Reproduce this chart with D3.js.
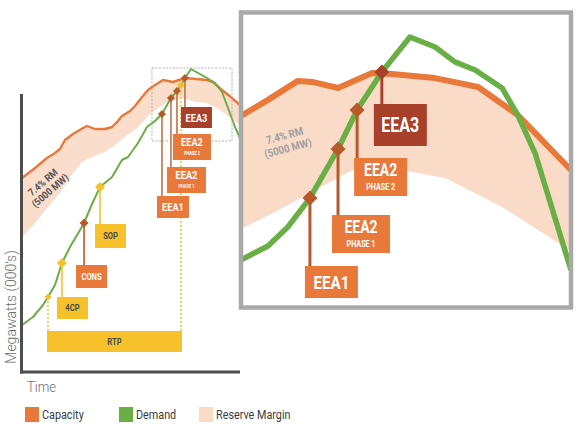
<!DOCTYPE html>
<html><head><meta charset="utf-8">
<script src="https://cdn.jsdelivr.net/npm/d3@7"></script>
<style>html,body{margin:0;padding:0;background:#fff;} svg{display:block;}</style>
</head><body><svg id="c" width="583" height="427"></svg>
<script>
// ---------- DATA (time in hours, load in thousand MW) ----------
const capacity = [[0,53.8],[1.43,55.8],[2.75,57.8],[3.63,58.8],[4.18,59.6],[4.73,61.4],[5.61,62.6],[6.72,63.8],[7.16,64.2],[8.04,63.6],[9.14,63.6],[9.91,64.0],[10.46,65.0],[11.01,66.2],[11.89,67.2],[12.44,68.2],[13.21,70.0],[13.87,71.4],[14.31,72.0],[15.52,73.4],[16.62,73.0],[17.94,73.8],[20.37,73.4],[21.03,73.0],[22.02,71.4],[23.12,69.8],[24.0,68.4]];
const reserveFloor = [[0,42.0],[1.43,44.8],[2.86,48.0],[4.18,50.8],[5.61,54.8],[6.61,57.0],[7.71,58.0],[9.14,59.0],[10.24,60.4],[11.34,62.0],[12.77,64.0],[14.09,66.6],[15.96,69.0],[17.72,69.8],[19.05,69.0],[20.37,68.8],[21.80,67.4],[23.23,65.4],[24.0,64.4]];
const demand = [[0,24.4],[1.21,26.0],[2.31,28.4],[2.86,30.0],[3.63,32.4],[4.40,36.8],[5.28,40.0],[6.39,43.4],[6.83,44.8],[7.71,48.6],[8.59,52.0],[9.91,54.0],[11.01,57.4],[11.67,58.0],[12.77,60.8],[13.76,64.0],[14.64,65.2],[15.41,66.6],[16.40,69.8],[17.06,71.2],[17.50,72.4],[17.94,73.8],[18.61,75.6],[19.38,74.8],[20.37,73.8],[21.25,72.8],[22.02,71.0],[22.68,67.8],[23.45,64.0],[24.0,61.8]];

const eventNames = ["RTP_START","4CP","CONS","SOP","EEA1","EEA2_P1","EEA2_P2","RTP_END","EEA3"];
const eventTimes = [2.86, 4.40, 6.83, 8.59, 15.41, 16.40, 17.06, 17.50, 17.94];

// detail (zoomed) panel values
const detailCapacity = [[14.31,72.65],[15.03,73.45],[15.83,74.39],[16.21,74.34],[16.90,74.04],[17.81,74.78],[18.34,74.73],[19.49,74.53],[20.64,74.09],[21.70,72.70],[23.12,69.98]];
const detailDemand = [[14.31,65.53],[15.03,66.22],[15.56,67.16],[16.15,68.59],[16.90,71.02],[17.41,72.95],[18.07,74.83],[18.82,76.56],[19.49,76.07],[20.02,75.33],[20.56,74.93],[21.28,74.04],[21.70,72.70],[22.16,70.82],[23.12,65.03]];
const detailReserveFloor = [[14.31,67.06],[15.22,67.90],[16.29,68.99],[17.54,70.23],[18.61,69.98],[19.76,69.58],[21.28,68.15],[23.12,65.97]];
const detailEventNames = ["EEA1","EEA2_P1","EEA2_P2","EEA3"];
const detailEventTimes = [16.15, 16.90, 17.41, 18.07];

const legendItems = ["Capacity","Demand","Reserve Margin"];

// ---------- STYLE / LAYOUT ----------
const C = {orange:"#E8793A", green:"#6AAE46", pink:"#F9D7C1", yellow:"#F7C12C", red:"#A8402B",
           brown:"#B65A2C", stem:"#C0724B", axis:"#4D4D4D", gray:"#A9A9A9", text:"#4A4A4A"};
const FONT = "Roboto,'Liberation Sans',sans-serif";
const SQ = 0.8; // horizontal condensing of label text

const svg = d3.select("#c");
const x = d3.scaleLinear().domain([0,24]).range([22,240]);
const y = d3.scaleLinear().domain([15,75]).range([372,72]);
const xd = d3.scaleLinear().domain([14.31,23.12]).range([241,571]);
const yd = d3.scaleLinear().domain([63.2,77.8]).range([307,12]);

function interp(series,t){
  for(let i=1;i<series.length;i++){
    if(t<=series[i][0]){const a=series[i-1],b=series[i];const f=(t-a[0])/(b[0]-a[0]);return a[1]+f*(b[1]-a[1]);}
  }
  return series[series.length-1][1];
}
const diamond = (s)=>`M0,${-s}L${s},0L0,${s}L${-s},0Z`;
function ctext(g, cx, by, str, size, fill, weight, anchor){
  return g.append("text").attr("transform",`translate(${cx},${by}) scale(${SQ},1)`)
    .attr("text-anchor",anchor||"middle").attr("font-family",FONT).attr("font-weight",weight||"bold")
    .attr("font-size",size).attr("fill",fill).text(str);
}

const defs = svg.append("defs");
defs.append("clipPath").attr("id","cm").append("rect").attr("x",22).attr("y",0).attr("width",218).attr("height",372);
defs.append("clipPath").attr("id","cd").append("rect").attr("x",243).attr("y",14.5).attr("width",326).attr("height",291);

// ---------- MAIN CHART ----------
const gm = svg.append("g");
const gmc = gm.append("g").attr("clip-path","url(#cm)");
const lineM = d3.line().x(d=>x(d[0])).y(d=>y(d[1]));
gmc.append("path").attr("d", lineM(capacity.concat(reserveFloor.slice().reverse()))+"Z").attr("fill",C.pink).attr("opacity",0.85);
gmc.append("path").attr("d", lineM(capacity)).attr("fill","none").attr("stroke",C.orange).attr("stroke-width",2.4).attr("stroke-linejoin","round");

// RM label
const rm = gm.append("text").attr("transform",`translate(${x(2.55)},${y(52.4)}) rotate(-41) scale(0.9,1)`)
  .attr("font-family",FONT).attr("font-size",10).attr("font-weight","bold").attr("fill","#555").attr("text-anchor","middle");
rm.append("tspan").attr("x",0).attr("dy",0).text("7.4% RM");
rm.append("tspan").attr("x",0).attr("dy",11).text("(5000 MW)");

// dashed zoom box
const zx0=x(14.31), zx1=x(23.12);
gm.append("rect").attr("x",zx0).attr("y",y(75.8)).attr("width",zx1-zx0).attr("height",y(61.2)-y(75.8))
  .attr("fill","none").attr("stroke","#B0B0B0").attr("stroke-width",1).attr("stroke-dasharray","2,1.5");

gmc.append("path").attr("d", lineM(demand)).attr("fill","none").attr("stroke",C.green).attr("stroke-width",2).attr("stroke-linejoin","round");

// axes
gm.append("line").attr("x1",21.5).attr("x2",21.5).attr("y1",94).attr("y2",373.5).attr("stroke",C.axis).attr("stroke-width",3);
gm.append("line").attr("x1",20).attr("x2",240).attr("y1",372).attr("y2",372).attr("stroke",C.axis).attr("stroke-width",3);
gm.append("text").attr("transform","translate(16,307) rotate(-90)").attr("text-anchor","middle")
  .attr("font-family",FONT).attr("font-weight",300).attr("font-size",14).attr("fill","#6E6E6E").text("Megawatts (000's)");
gm.append("text").attr("transform","translate(27,392) scale(0.9,1)").attr("font-family",FONT).attr("font-weight",300)
  .attr("font-size",14.5).attr("fill","#6E6E6E").text("Time");

// events on main chart
const ev = {}; eventNames.forEach((n,i)=>ev[n]={t:eventTimes[i], x:x(eventTimes[i]), y:y(interp(demand,eventTimes[i]))});
const boxLayout = {
  "4CP":    {top:297,h:22,w:31,dx:-5,fill:C.yellow,stem:C.yellow,dia:C.yellow,ds:5,lines:["4CP"],fc:C.text},
  "CONS":   {top:265,h:23,w:31,dx:-8,fill:C.orange,stem:C.brown,dia:C.brown,ds:4.5,lines:["CONS"],fc:"#fff"},
  "SOP":    {top:224,h:24,w:31,dx:-5,fill:C.yellow,stem:C.yellow,dia:C.yellow,ds:5,lines:["SOP"],fc:C.text},
  "EEA1":   {top:196,h:22,w:32,dx:-5,fill:C.orange,stem:C.stem,dia:C.brown,ds:4,lines:["EEA1"],fc:"#fff"},
  "EEA2_P1":{top:167,h:26,w:39,dx:-4,fill:C.orange,stem:C.stem,dia:C.brown,ds:4,lines:["EEA2","PHASE 1"],fc:"#fff"},
  "EEA2_P2":{top:134,h:26,w:38,dx:-4,fill:C.orange,stem:C.stem,dia:C.brown,ds:4,lines:["EEA2","PHASE 2"],fc:"#fff"},
  "EEA3":   {top:107,h:21,w:31,dx:-4,fill:C.red,stem:C.stem,dia:C.brown,ds:4,lines:["EEA3"],fc:"#fff"}
};
// RTP
const rtpTop=331, rtpBot=352;
[ev.RTP_START, ev.RTP_END].forEach(e=>{
  gm.append("line").attr("x1",e.x).attr("x2",e.x).attr("y1",e.y).attr("y2",rtpTop).attr("stroke",C.yellow).attr("stroke-width",1.5).attr("stroke-dasharray","2,2");
});
gm.append("rect").attr("x",ev.RTP_START.x-1).attr("y",rtpTop).attr("width",ev.RTP_END.x-ev.RTP_START.x+2).attr("height",rtpBot-rtpTop).attr("fill",C.yellow);
ctext(gm,(ev.RTP_START.x+ev.RTP_END.x)/2,(rtpTop+rtpBot)/2+3.3,"RTP",9.5,C.text);
gm.append("path").attr("d",diamond(3.5)).attr("transform",`translate(${ev.RTP_START.x},${ev.RTP_START.y})`).attr("fill",C.yellow);
gm.append("path").attr("d",diamond(4)).attr("transform",`translate(${ev.RTP_END.x},${ev.RTP_END.y})`).attr("fill",C.yellow);

function drawBox(g, e, L, big){
  g.append("line").attr("x1",e.x).attr("x2",e.x).attr("y1",e.y).attr("y2",L.top).attr("stroke",L.stem).attr("stroke-width",big?3:1.6);
  g.append("rect").attr("x",e.x+L.dx).attr("y",L.top).attr("width",L.w).attr("height",L.h).attr("fill",L.fill);
  const cx = e.x+L.dx+L.w/2;
  if(L.lines.length===1){
    ctext(g,cx,L.top+L.h/2+L.fs*0.36,L.lines[0],L.fs,L.fc);
  } else {
    ctext(g,cx,L.top+L.h*0.32+L.fs*0.36,L.lines[0],L.fs,L.fc);
    ctext(g,cx,L.top+L.h*0.75+L.fs2*0.36,L.lines[1],L.fs2,L.fc);
  }
  g.append("path").attr("d",diamond(L.ds)).attr("transform",`translate(${e.x},${e.y})`).attr("fill",L.dia);
}
Object.keys(boxLayout).forEach(k=>{
  const L = boxLayout[k];
  L.fs = k.startsWith("EEA") ? 11.5 : 9.5; L.fs2 = 5;
  drawBox(gm, ev[k], L, false);
});

// ---------- DETAIL PANEL ----------
const gd = svg.append("g");
gd.append("rect").attr("x",241).attr("y",12.5).attr("width",330).attr("height",295).attr("fill","#fff");
const gdc = gd.append("g").attr("clip-path","url(#cd)");
const lineD = d3.line().x(d=>xd(d[0])).y(d=>yd(d[1]));
gdc.append("path").attr("d", lineD(detailCapacity.concat(detailReserveFloor.slice().reverse()))+"Z").attr("fill",C.pink).attr("opacity",0.9);
gdc.append("path").attr("d", lineD(detailCapacity)).attr("fill","none").attr("stroke",C.orange).attr("stroke-width",6).attr("stroke-linejoin","round");
gdc.append("path").attr("d", lineD(detailDemand)).attr("fill","none").attr("stroke",C.green).attr("stroke-width",5.5).attr("stroke-linejoin","round");
const rmd = gd.append("text").attr("transform",`translate(${xd(15.5)},${yd(71.5)}) rotate(-15) scale(0.88,1)`)
  .attr("font-family",FONT).attr("font-size",11).attr("font-weight","bold").attr("fill","#A0A0A0").attr("text-anchor","middle");
rmd.append("tspan").attr("x",0).attr("dy",0).text("7.4% RM");
rmd.append("tspan").attr("x",0).attr("dy",13).text("(5000 MW)");

const dLayout = {
  "EEA1":   {top:266,h:32,w:53,dx:-5,fill:C.orange,stem:C.brown,dia:C.brown,ds:7.5,lines:["EEA1"],fc:"#fff",fs:19},
  "EEA2_P1":{top:215,h:38,w:58,dx:-6,fill:C.orange,stem:C.brown,dia:C.brown,ds:7.5,lines:["EEA2","PHASE 1"],fc:"#fff",fs:17.5,fs2:9},
  "EEA2_P2":{top:158,h:38,w:53,dx:-3,fill:C.orange,stem:C.brown,dia:C.brown,ds:7.5,lines:["EEA2","PHASE 2"],fc:"#fff",fs:17.5,fs2:9},
  "EEA3":   {top:104,h:42,w:53,dx:-8,fill:C.red,stem:C.red,dia:C.red,ds:7.5,lines:["EEA3"],fc:"#fff",fs:20}
};
detailEventNames.forEach((n,i)=>{
  const t = detailEventTimes[i];
  drawBox(gd, {x:xd(t), y:yd(interp(detailDemand,t))}, dLayout[n], true);
});
gd.append("rect").attr("x",241).attr("y",12.5).attr("width",330).attr("height",295).attr("fill","none")
  .attr("stroke",C.gray).attr("stroke-width",4.5);

// ---------- LEGEND ----------
const legColors = [C.orange, C.green, "#FADBC8"];
const legX = [25, 119, 199];
legendItems.forEach((n,i)=>{
  svg.append("rect").attr("x",legX[i]).attr("y",407).attr("width",14).attr("height",15).attr("fill",legColors[i]);
  ctext(svg, legX[i]+17, 419, n, 13.5, "#3C3C3C", 400, "start");
});
</script></body></html>
